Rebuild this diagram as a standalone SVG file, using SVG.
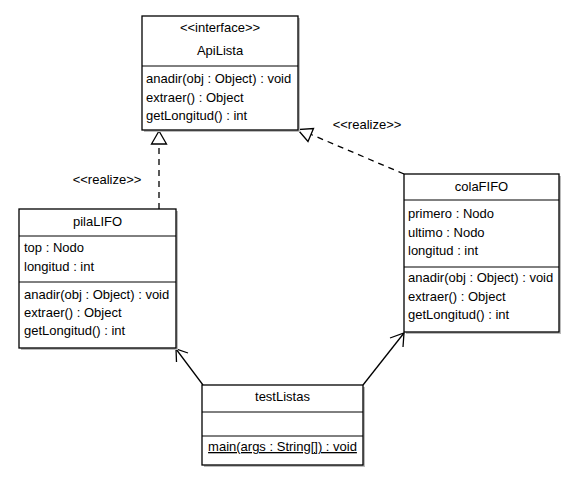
<svg xmlns="http://www.w3.org/2000/svg" width="581" height="481" viewBox="0 0 581 481">
<style>
text{font-family:"Liberation Sans",Arial,sans-serif;font-size:13px;fill:#000}
.c{text-anchor:middle}
.box{fill:#fff;stroke:#000;stroke-width:1.3}
.sh{fill:#bbb}
.sep{stroke:#000;stroke-width:1}
.dash{fill:none;stroke:#000;stroke-width:1.3;stroke-dasharray:6,5}
.ln{fill:none;stroke:#000;stroke-width:1.3}
.tri{fill:#fff;stroke:#000;stroke-width:1.3}
</style>
<rect width="581" height="481" fill="#fff"/>
<g id="connectors">
<line class="dash" x1="159" y1="209" x2="159" y2="144"/>
<polygon class="tri" points="159,131 151.5,144 166.5,144"/>
<line class="dash" x1="404" y1="174" x2="310" y2="134"/>
<polygon class="tri" points="297.7,129.5 308,141.5 313.5,128.5"/>
<text x="107" y="184" class="c">&lt;&lt;realize&gt;&gt;</text>
<text x="367" y="129" class="c">&lt;&lt;realize&gt;&gt;</text>
<line class="ln" x1="203" y1="385" x2="176" y2="349"/>
<polyline class="ln" points="176.5,362 176,349 188,353"/>
<line class="ln" x1="363" y1="385" x2="404" y2="333"/>
<polyline class="ln" points="390,338 404,333 403,347"/>
</g>
<g id="ApiLista">
<rect class="sh" x="144" y="18" width="156" height="114"/>
<rect class="box" x="142" y="16" width="156" height="114"/>
<line class="sep" x1="142" y1="66" x2="298" y2="66"/>
<text x="220" y="32" class="c">&lt;&lt;interface&gt;&gt;</text>
<text x="220" y="55" class="c">ApiLista</text>
<text x="146" y="83">anadir(obj : Object) : void</text>
<text x="146" y="102">extraer() : Object</text>
<text x="146" y="120">getLongitud() : int</text>
</g>
<g id="pilaLIFO">
<rect class="sh" x="21" y="211" width="157" height="139"/>
<rect class="box" x="19" y="209" width="157" height="139"/>
<line class="sep" x1="19" y1="236" x2="176" y2="236"/>
<line class="sep" x1="19" y1="282" x2="176" y2="282"/>
<text x="97.5" y="226" class="c">pilaLIFO</text>
<text x="24" y="252">top : Nodo</text>
<text x="24" y="271">longitud : int</text>
<text x="24" y="299">anadir(obj : Object) : void</text>
<text x="24" y="317">extraer() : Object</text>
<text x="24" y="335">getLongitud() : int</text>
</g>
<g id="colaFIFO">
<rect class="sh" x="406" y="176" width="155" height="158"/>
<rect class="box" x="404" y="174" width="155" height="158"/>
<line class="sep" x1="404" y1="200" x2="559" y2="200"/>
<line class="sep" x1="404" y1="267" x2="559" y2="267"/>
<text x="481.5" y="191" class="c">colaFIFO</text>
<text x="408" y="218">primero : Nodo</text>
<text x="408" y="237">ultimo : Nodo</text>
<text x="408" y="255">longitud : int</text>
<text x="408" y="282">anadir(obj : Object) : void</text>
<text x="408" y="301">extraer() : Object</text>
<text x="408" y="319">getLongitud() : int</text>
</g>
<g id="testListas">
<rect class="sh" x="204" y="387" width="161" height="80"/>
<rect class="box" x="202" y="385" width="161" height="80"/>
<line class="sep" x1="202" y1="412" x2="363" y2="412"/>
<line class="sep" x1="202" y1="436" x2="363" y2="436"/>
<text x="282.5" y="401" class="c">testListas</text>
<text x="282.5" y="451" class="c" text-decoration="underline">main(args : String[]) : void</text>
</g>
</svg>
